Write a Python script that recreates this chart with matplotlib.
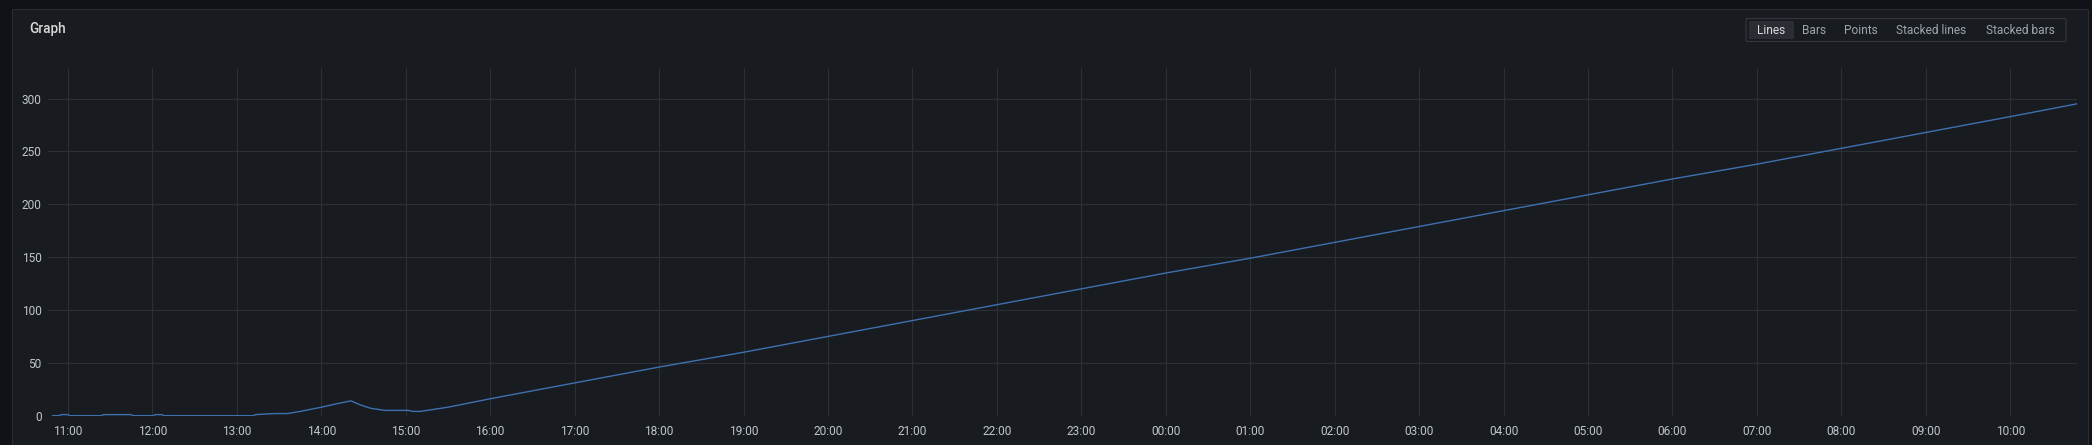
import matplotlib
matplotlib.use("Agg")
import matplotlib.pyplot as plt
import matplotlib.dates as mdates
from matplotlib.patches import FancyBboxPatch, Rectangle
from datetime import datetime

# readings taken off the chart (day 1 = first day, 2 = next day)
times = ["1 10:49", "1 10:54", "1 10:55", "1 11:00", "1 11:01", "1 11:24", "1 11:25",
         "1 11:45", "1 11:46", "1 12:01", "1 12:02", "1 12:07", "1 12:08", "1 13:12",
         "1 13:13", "1 13:27", "1 13:36", "1 13:45", "1 14:00", "1 14:10", "1 14:21",
         "1 14:28", "1 14:35", "1 14:45", "1 15:02", "1 15:05", "1 15:10", "1 15:30",
         "1 16:00", "1 17:00", "1 18:00", "1 19:00", "1 20:00", "1 21:00", "1 22:00",
         "1 23:00", "2 00:00", "2 01:00", "2 02:00", "2 03:00", "2 04:00", "2 05:00",
         "2 06:00", "2 07:00", "2 08:00", "2 09:00", "2 10:00", "2 10:47"]
values = [0, 0, 1, 1, 0, 0, 1,
          1, 0, 0, 1, 1, 0, 0,
          1, 2, 2, 4, 8, 11, 14,
          10, 7, 5, 5, 4, 4, 8,
          16, 31, 46, 60, 75, 90, 105,
          120, 135, 149, 164, 179, 194, 209,
          224, 238, 253, 268, 283, 295]
y_ticks = [0, 50, 100, 150, 200, 250, 300]
modes = ["Lines", "Bars", "Points", "Stacked lines", "Stacked bars"]


def to_dt(s):
    day, hm = s.split()
    h, m = hm.split(":")
    return datetime(2023, 1, int(day), int(h), int(m))


x = [to_dt(t) for t in times]

W, H = 2092, 445
plt.rcParams["font.family"] = ["Roboto", "DejaVu Sans"]
fig = plt.figure(figsize=(W / 100, H / 100), dpi=100, facecolor="#111217")


def fx(px):
    return px / W


def fy(py):
    return 1 - py / H


# panel background (behind the axes)
fig.patches.append(FancyBboxPatch((fx(12.5), fy(460)), fx(2088.5) - fx(12.5), fy(9.5) - fy(460),
                                  boxstyle="round,pad=0,rounding_size=0.002",
                                  transform=fig.transFigure, facecolor="#181b1f",
                                  edgecolor="#2a2d32", linewidth=0.8, zorder=-10))
fig.text(fx(29), fy(28.5), "Graph", color="#d8d9da", fontsize=9.8, fontweight="medium",
         va="center", ha="left")

# mode switch
fig.patches.append(FancyBboxPatch((fx(1746), fy(41.5)), fx(2066) - fx(1746), fy(18.5) - fy(41.5),
                                  boxstyle="round,pad=0,rounding_size=0.001",
                                  transform=fig.transFigure, facecolor="none",
                                  edgecolor="#34373d", linewidth=0.8, zorder=-5))
fig.patches.append(Rectangle((fx(1749), fy(39)), fx(1794) - fx(1749), fy(21) - fy(39),
                             transform=fig.transFigure, facecolor="#2a2d33", edgecolor="none",
                             zorder=-5))
centers = [1771, 1814.5, 1861, 1931, 2020]
for name, cx in zip(modes, centers):
    fig.text(fx(cx), fy(30.5), name, fontsize=8.6, ha="center", va="center",
             color="#d8d9da" if name == "Lines" else "#9fa4ad")

ax = fig.add_axes([fx(48), fy(416.3), fx(2077) - fx(48), fy(68) - fy(416.3)])
ax.set_facecolor("none")
ax.plot(x, values, color="#3d71b0", linewidth=1.0)

ax.set_xlim(datetime(2023, 1, 1, 10, 45, 48), datetime(2023, 1, 2, 10, 47, 24))
ax.set_ylim(-0.6, 329)
ax.set_yticks(y_ticks)
ax.xaxis.set_major_locator(mdates.HourLocator())
ax.xaxis.set_major_formatter(mdates.DateFormatter("%H:%M"))
ax.grid(True, color="#2c2f34", linewidth=0.8)
for s in ax.spines.values():
    s.set_visible(False)
ax.tick_params(axis="both", length=0, labelsize=8.6, labelcolor="#c0c4cc")
ax.tick_params(axis="y", pad=4.5)
ax.tick_params(axis="x", pad=6)

fig.savefig("out.png", dpi=100, facecolor=fig.get_facecolor())
